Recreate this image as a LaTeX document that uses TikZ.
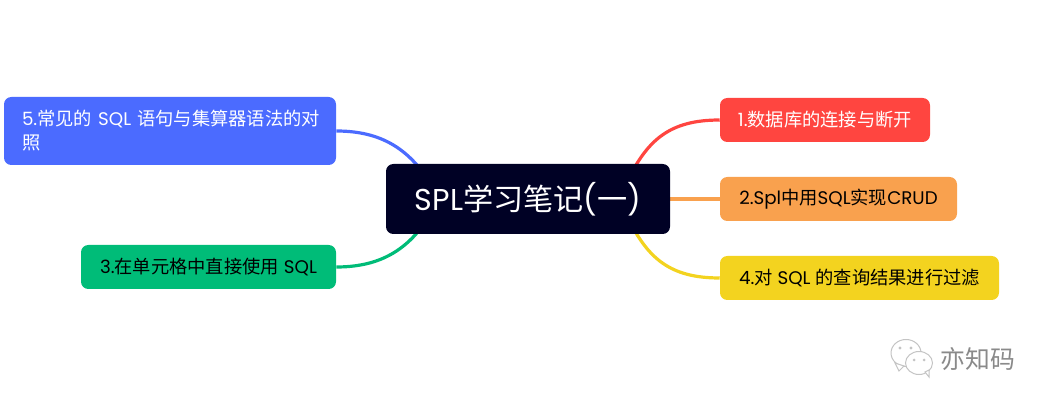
\documentclass[tikz,border=0pt]{standalone}
\usepackage{fontspec}
\usetikzlibrary{backgrounds}
\setmainfont{Poppins}
\newfontfamily\cjkf{Noto Sans CJK SC}
\newcommand{\zh}[1]{{\cjkf #1}}
\definecolor{cred}{HTML}{FF4540}
\definecolor{corange}{HTML}{F9A14E}
\definecolor{cyellow}{HTML}{F3D31F}
\definecolor{cgreen}{HTML}{00BC78}
\definecolor{cblue}{HTML}{4B6BFF}
\definecolor{cdark}{HTML}{000125}
\definecolor{cmark}{HTML}{8A8A8A}
\definecolor{cicon}{HTML}{C4C4C4}
\tikzset{
  topic/.style={rounded corners=5.5pt,inner sep=0pt,font=\fontsize{13.7pt}{18pt}\selectfont,align=left},
  rootbox/.style={fill=cdark,text=white,rounded corners=5.5pt,inner sep=0pt,minimum width=213pt,minimum height=52.5pt,font=\fontsize{22.6pt}{26pt}\selectfont},
  link/.style={line width=2.4pt},
  bubble/.style={draw=cicon,line width=0.75pt,fill=white},
  eye/.style={fill=cicon,draw=none}
}
\begin{document}
\begin{tikzpicture}[x=0.75pt,y=-0.75pt]
\useasboundingbox (0,0) rectangle (1051,406);
% nodes
\node[rootbox] (root) at (528,199) {SPL\zh{学习笔记}(\zh{一})};
\node[topic,fill=cblue,text=white,minimum width=249pt,minimum height=51pt,text width=222pt] (n5) at (170,131) {\mbox{5.\zh{常见的} SQL \zh{语句与集算器语法的对}}\\\zh{照}};
\node[topic,fill=cgreen,text=black,minimum width=191.25pt,minimum height=33pt] (n3) at (208.5,267) {3.\zh{在单元格中直接使用} SQL};
\node[topic,fill=cred,text=white,minimum width=157.5pt,minimum height=33pt] (n1) at (825,120) {1.\zh{数据库的连接与断开}};
\node[topic,fill=corange,text=black,minimum width=177.75pt,minimum height=33pt] (n2) at (838.5,199) {2.Spl\zh{中用}SQL\zh{实现}CRUD};
\node[topic,fill=cyellow,text=black,minimum width=209.25pt,minimum height=33pt] (n4) at (859.5,278) {4.\zh{对} SQL \zh{的查询结果进行过滤}};
% connectors, under the nodes
\begin{pgfonlayer}{background}
\draw[link,cred] (n1.west) .. controls ++(-50,0) and ([xshift=90pt,yshift=18pt]root.north) .. ([xshift=75pt,yshift=-12pt]root.north);
\draw[link,corange] (root.east) -- (n2.west);
\draw[link,cyellow] (n4.west) .. controls ++(-50,0) and ([xshift=90pt,yshift=-18pt]root.south) .. ([xshift=75pt,yshift=12pt]root.south);
\draw[link,cblue] (n5.east) .. controls ++(40,0) and ([xshift=-92pt,yshift=14pt]root.north) .. ([xshift=-75pt,yshift=-12pt]root.north);
\draw[link,cgreen] (n3.east) .. controls ++(40,0) and ([xshift=-92pt,yshift=-14pt]root.south) .. ([xshift=-75pt,yshift=12pt]root.south);
\end{pgfonlayer}
% watermark
\path[bubble] (906,353) ellipse[x radius=15,y radius=13.5];
\path[bubble] (895,363) -- (899,371) -- (904,366) -- cycle;
\fill[eye] (900,348) circle (1.6);
\fill[eye] (911,348) circle (1.6);
\path[bubble] (919,363) ellipse[x radius=13.5,y radius=11.5];
\path[bubble] (925,372) -- (929,377) -- (929,370) -- cycle;
\fill[eye] (914,360) circle (1.5);
\fill[eye] (924,360) circle (1.5);
\node[inner sep=0pt,text=cmark,font=\cjkf\fontsize{18.6pt}{20pt}\selectfont] (mark) at (978,359) {亦知码};
\end{tikzpicture}
\end{document}
